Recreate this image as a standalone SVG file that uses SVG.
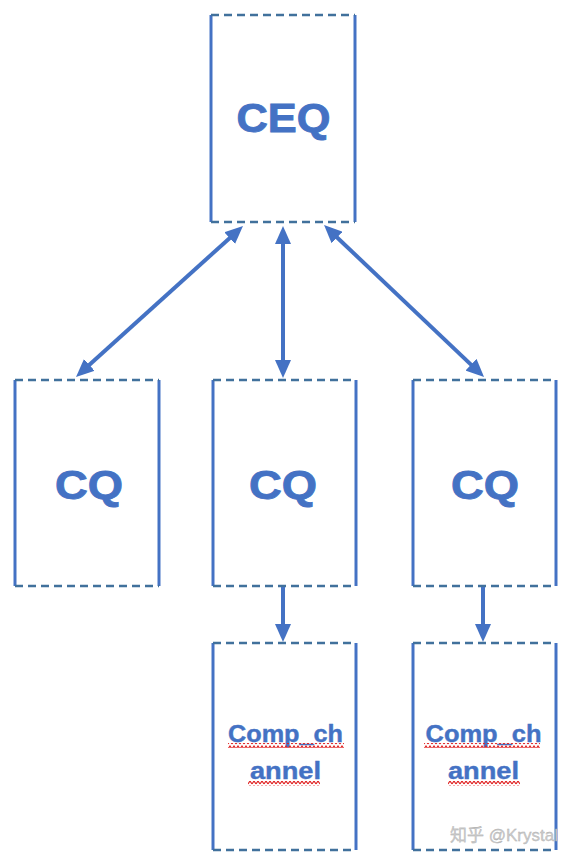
<svg xmlns="http://www.w3.org/2000/svg" width="578" height="862" viewBox="0 0 578 862">
<style>
.side{stroke:#4472C4;stroke-width:3;fill:none}
.dash{stroke:#41719C;stroke-width:2.4;stroke-dasharray:8 5;fill:none}
.big{font-family:"Liberation Sans",Arial,sans-serif;font-weight:bold;font-size:41px;fill:#4472C4;stroke:#4472C4;stroke-width:0.9;text-anchor:middle}
.small{font-family:"Liberation Sans",Arial,sans-serif;font-weight:bold;font-size:23px;fill:#4472C4;stroke:#4472C4;stroke-width:0.4;text-anchor:middle}
.conn{stroke:#4472C4;stroke-width:4;fill:none}
.wm{font-family:"Liberation Sans","Noto Sans CJK SC",sans-serif;font-size:17px;fill:#cccccc;stroke:#a8a8a8;stroke-width:0.3}
</style>
<defs>
<marker id="ah" markerUnits="userSpaceOnUse" markerWidth="18" markerHeight="16" refX="4" refY="8" orient="auto-start-reverse">
<path d="M0,0 L18,8 L0,16 z" fill="#4472C4"/>
</marker>
<pattern id="wave" width="4" height="5" patternUnits="userSpaceOnUse">
<path d="M0,4 L2,1 L4,4" stroke="#e02020" stroke-width="1.2" fill="none"/>
</pattern>
</defs>
<rect width="578" height="862" fill="#ffffff"/>

<g id="ceq">
<line class="side" x1="211" y1="15" x2="211" y2="222"/>
<line class="side" x1="355" y1="15" x2="355" y2="222"/>
<line class="dash" x1="211" y1="15" x2="355" y2="15"/>
<line class="dash" x1="211" y1="222" x2="355" y2="222"/>
<text class="big" x="283.5" y="132" textLength="94" lengthAdjust="spacingAndGlyphs">CEQ</text>
</g>

<g id="cq1">
<line class="side" x1="15" y1="380" x2="15" y2="586"/>
<line class="side" x1="159" y1="380" x2="159" y2="586"/>
<line class="dash" x1="15" y1="380" x2="159" y2="380"/>
<line class="dash" x1="15" y1="586" x2="159" y2="586"/>
<text class="big" x="89" y="499" textLength="68" lengthAdjust="spacingAndGlyphs">CQ</text>
</g>

<g id="cq2">
<line class="side" x1="213" y1="380" x2="213" y2="586"/>
<line class="side" x1="356" y1="380" x2="356" y2="586"/>
<line class="dash" x1="213" y1="380" x2="356" y2="380"/>
<line class="dash" x1="213" y1="586" x2="356" y2="586"/>
<text class="big" x="283" y="499" textLength="68" lengthAdjust="spacingAndGlyphs">CQ</text>
</g>

<g id="cq3">
<line class="side" x1="413" y1="380" x2="413" y2="586"/>
<line class="side" x1="556" y1="380" x2="556" y2="586"/>
<line class="dash" x1="413" y1="380" x2="556" y2="380"/>
<line class="dash" x1="413" y1="586" x2="556" y2="586"/>
<text class="big" x="485" y="499" textLength="68" lengthAdjust="spacingAndGlyphs">CQ</text>
</g>

<g id="comp1">
<line class="side" x1="213" y1="643" x2="213" y2="850"/>
<line class="side" x1="356" y1="643" x2="356" y2="850"/>
<line class="dash" x1="213" y1="643" x2="356" y2="643"/>
<line class="dash" x1="213" y1="850" x2="356" y2="850"/>
<text class="small" x="285.5" y="742" textLength="115" lengthAdjust="spacingAndGlyphs">Comp_ch</text>
<text class="small" x="285.5" y="779" textLength="71" lengthAdjust="spacingAndGlyphs">annel</text>
<rect x="228" y="743" width="116" height="5" fill="url(#wave)"/>
<rect x="248" y="781" width="72" height="5" fill="url(#wave)"/>
</g>

<g id="comp2">
<line class="side" x1="413" y1="643" x2="413" y2="850"/>
<line class="side" x1="556" y1="643" x2="556" y2="850"/>
<line class="dash" x1="413" y1="643" x2="556" y2="643"/>
<line class="dash" x1="413" y1="850" x2="556" y2="850"/>
<text class="small" x="483.5" y="742" textLength="116" lengthAdjust="spacingAndGlyphs">Comp_ch</text>
<text class="small" x="483.5" y="779" textLength="71" lengthAdjust="spacingAndGlyphs">annel</text>
<rect x="424" y="743" width="116" height="5" fill="url(#wave)"/>
<rect x="448" y="781" width="72" height="5" fill="url(#wave)"/>
</g>

<g id="connectors">
<line class="conn" x1="86.4" y1="367.6" x2="232.6" y2="235.4" marker-start="url(#ah)" marker-end="url(#ah)"/>
<line class="conn" x1="283" y1="240" x2="283" y2="364" marker-start="url(#ah)" marker-end="url(#ah)"/>
<line class="conn" x1="334.2" y1="234.7" x2="473.9" y2="367.4" marker-start="url(#ah)" marker-end="url(#ah)"/>
<line class="conn" x1="283" y1="587" x2="283" y2="628" marker-end="url(#ah)"/>
<line class="conn" x1="483" y1="587" x2="483" y2="628" marker-end="url(#ah)"/>
</g>

<text class="wm" x="450" y="841">知乎 @Krystal</text>
</svg>
